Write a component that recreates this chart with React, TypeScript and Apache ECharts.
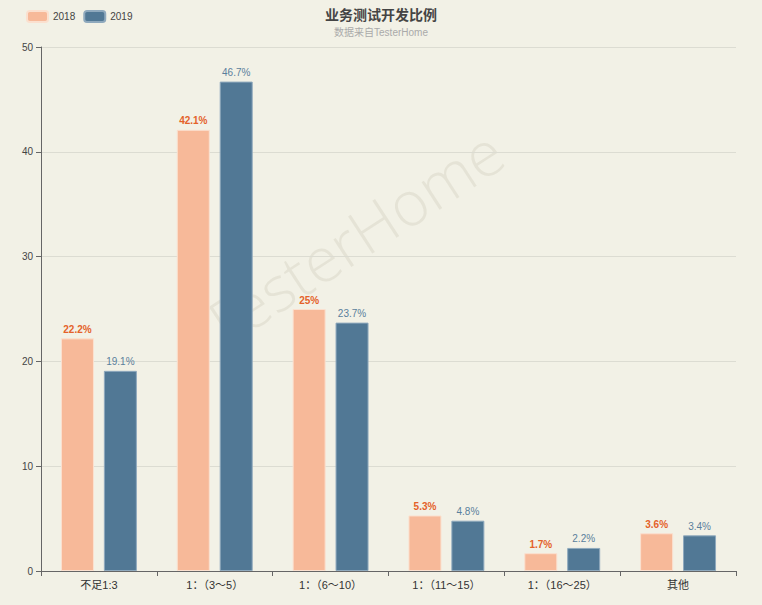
import React, { useEffect, useRef } from "react";
import * as echarts from "echarts";

const categories = ["不足1:3", "1：（3～5）", "1：（6～10）", "1：（11～15）", "1：（16～25）", "其他"];
const values2018 = [22.2, 42.1, 25, 5.3, 1.7, 3.6];
const values2019 = [19.1, 46.7, 23.7, 4.8, 2.2, 3.4];
const seriesNames = ["2018", "2019"];

export default function App() {
  const ref = useRef<HTMLDivElement>(null);
  useEffect(() => {
    if (!ref.current) return;
    const chart = echarts.init(ref.current, null, { renderer: "svg" });
    const font = "Helvetica, Arial, 'Noto Sans CJK SC', sans-serif";
    chart.setOption({
      animation: false,
      backgroundColor: "#f2f1e6",
      textStyle: { fontFamily: font },
      title: {
        text: "业务测试开发比例",
        subtext: "数据来自TesterHome",
        left: "center",
        top: 3,
        itemGap: 6,
        textStyle: { fontSize: 14, fontWeight: "bold", color: "#444", fontFamily: font },
        subtextStyle: { fontSize: 10, color: "#aaa", fontFamily: font },
      },
      legend: {
        left: 21,
        top: 5,
        itemWidth: 21,
        itemHeight: 11,
        itemGap: 8,
        icon: "roundRect",
        textStyle: { fontSize: 10, color: "#444" },
        data: seriesNames,
      },
      graphic: [
        {
          type: "text",
          x: 352,
          y: 238,
          rotation: (33 * Math.PI) / 180,
          z: -1,
          style: {
            text: "TesterHome",
            x: 0,
            y: 0,
            align: "center",
            verticalAlign: "middle",
            font: "300 62px 'Open Sans', Helvetica, Arial, sans-serif",
            fill: "rgba(150,140,110,0.13)",
          },
        },
      ],
      grid: { left: 41, right: 26, top: 47, bottom: 34 },
      xAxis: {
        type: "category",
        data: categories,
        axisLine: { lineStyle: { color: "#666" } },
        axisTick: { show: true, lineStyle: { color: "#666" } },
        axisLabel: { fontSize: 11, color: "#333", margin: 8 },
      },
      yAxis: {
        type: "value",
        min: 0,
        max: 50,
        interval: 10,
        axisLine: { show: true, lineStyle: { color: "#666" } },
        axisTick: { show: true, lineStyle: { color: "#666" } },
        axisLabel: { fontSize: 10, color: "#444" },
        splitLine: { lineStyle: { color: "#dcdcd2" } },
      },
      series: [
        {
          name: seriesNames[0],
          type: "bar",
          data: values2018,
          barWidth: 33,
          barGap: "30%",
          itemStyle: { color: "#f7b999", borderColor: "#fbe0cf", borderWidth: 1 },
          label: {
            show: true,
            position: "top",
            formatter: "{c}%",
            fontSize: 10,
            fontWeight: "bold",
            color: "#e4622a",
            distance: 4,
          },
        },
        {
          name: seriesNames[1],
          type: "bar",
          data: values2019,
          barWidth: 33,
          barGap: "30%",
          itemStyle: { color: "#517895", borderColor: "#8fa9bd", borderWidth: 1 },
          label: {
            show: true,
            position: "top",
            formatter: "{c}%",
            fontSize: 10,
            color: "#5a7f9c",
            distance: 4,
          },
        },
      ],
    });
    return () => chart.dispose();
  }, []);
  return <div ref={ref} style={{ width: 762, height: 605, position: "absolute", left: 0, top: 0 }} />;
}
